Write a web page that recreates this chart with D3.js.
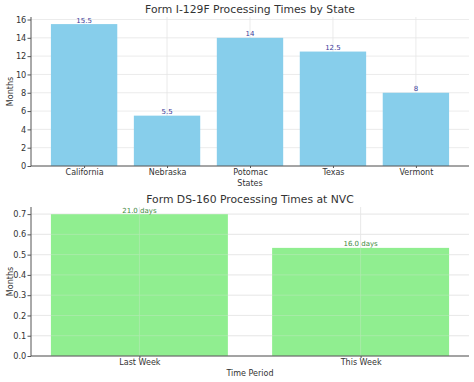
<!DOCTYPE html>
<html><head><meta charset="utf-8">
<script src="https://cdn.jsdelivr.net/npm/d3@7"></script>
<style>body{margin:0;background:#fff}svg{display:block;font-family:"DejaVu Sans",sans-serif}</style>
</head><body>
<svg id="c" width="474" height="382"></svg>
<script>
const states = ["California","Nebraska","Potomac","Texas","Vermont"];
const stateMonths = [15.5,5.5,14,12.5,8];
const stateLabels = ["15.5","5.5","14","12.5","8"];
const stateTicks = [0,2,4,6,8,10,12,14,16];

const periods = ["Last Week","This Week"];
const periodDays = [21,16];
const periodMonths = periodDays.map(d=>d/30);
const periodLabels = ["21.0 days","16.0 days"];
const periodTicks = [0,0.1,0.2,0.3,0.4,0.5,0.6,0.7];

const svg = d3.select("#c");
const L = 31, R = 469;

function panel(cfg){
  const g = svg.append("g");
  const n = cfg.cats.length;
  const x = d3.scaleLinear().domain([-0.4-0.05*(n-0.2), n-0.6+0.05*(n-0.2)]).range([L,R]);
  const ymax = d3.max(cfg.vals)*1.05;
  const y = d3.scaleLinear().domain([0,ymax]).range([cfg.bottom,cfg.top]);
  const grid = g.append("g");
  const drawGrid = (gg)=>{
    gg.selectAll(".hg").data(cfg.ticks).join("line")
      .attr("x1",L).attr("x2",R).attr("y1",d=>y(d)).attr("y2",d=>y(d))
      .attr("stroke","#e6e6e6").attr("stroke-width",0.8);
    gg.selectAll(".vg").data(cfg.cats).join("line")
      .attr("x1",(d,i)=>x(i)).attr("x2",(d,i)=>x(i)).attr("y1",cfg.top).attr("y2",cfg.bottom)
      .attr("stroke","#e6e6e6").attr("stroke-width",0.8);
  };
  drawGrid(grid.append("g"));
  g.selectAll(".bar").data(cfg.vals).join("rect")
    .attr("x",(d,i)=>x(i-0.4)).attr("width",x(0.4)-x(-0.4))
    .attr("y",d=>y(d)).attr("height",d=>y(0)-y(d)).attr("fill",cfg.color);
  if(cfg.gridOver){ const go=g.append("g").attr("opacity",0.35); drawGrid(go); }
  g.selectAll(".vl").data(cfg.vals).join("text")
    .attr("x",(d,i)=>x(i)).attr("y",d=>y(d)-1.5).attr("text-anchor","middle")
    .attr("font-size",7).attr("fill",cfg.labelColor).text((d,i)=>cfg.labels[i]);
  const ya = g.append("g").attr("transform",`translate(${L},0)`)
    .call(d3.axisLeft(y).tickValues(cfg.ticks).tickFormat(cfg.fmt).tickSize(3.5).tickPadding(1.2));
  ya.select(".domain").attr("stroke","#555").attr("d",`M0,${cfg.bottom}V${cfg.top}`);
  ya.selectAll(".tick line").attr("stroke","#555");
  ya.selectAll(".tick text").attr("font-size",8.2).attr("fill","#333").attr("font-family","DejaVu Sans");
  const xa = g.append("g").attr("transform",`translate(0,${cfg.bottom})`)
    .call(d3.axisBottom(x).tickValues(d3.range(n)).tickFormat(i=>cfg.cats[i]).tickSize(2).tickPadding(1.5));
  xa.select(".domain").attr("stroke","#555").attr("d",`M${L},0H${R}`);
  xa.selectAll(".tick line").attr("stroke","#555");
  xa.selectAll(".tick text").attr("font-size",8).attr("fill","#333").attr("font-family","DejaVu Sans");
  g.append("text").attr("x",250).attr("y",cfg.titleY).attr("text-anchor","middle")
    .attr("font-size",10.8).attr("fill","#333").text(cfg.title);
  g.append("text").attr("x",250).attr("y",cfg.xlabY).attr("text-anchor","middle")
    .attr("font-size",8).attr("fill","#333").text(cfg.xlab);
  const my = (cfg.top+cfg.bottom)/2;
  g.append("text").attr("transform",`translate(12.5,${my}) rotate(-90)`).attr("text-anchor","middle")
    .attr("font-size",8).attr("fill","#333").text("Months");
}

panel({cats:states, vals:stateMonths, labels:stateLabels, ticks:stateTicks, fmt:d3.format("d"),
  top:17, bottom:166, color:"#87CEEB", labelColor:"#3b3b9a",
  title:"Form I-129F Processing Times by State", titleY:12.5, xlab:"States", xlabY:186});
panel({cats:periods, vals:periodMonths, labels:periodLabels, ticks:periodTicks, fmt:d3.format(".1f"),
  top:207, bottom:356, color:"#90EE90", labelColor:"#3f8a3f", gridOver:true,
  title:"Form DS-160 Processing Times at NVC", titleY:202.5, xlab:"Time Period", xlabY:375.5});
</script>
</body></html>
